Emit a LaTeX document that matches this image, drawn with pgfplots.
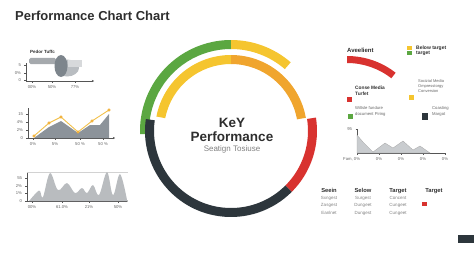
\documentclass[border=0pt]{standalone}
\usepackage{fontspec}
\setmainfont{Liberation Sans}
\usepackage{pgfplots}
\pgfplotsset{compat=1.18}
\usetikzlibrary{arrows.meta}
\definecolor{titlegray}{HTML}{2E2E2E}
\definecolor{rgreen}{HTML}{5BA741}
\definecolor{ryellow}{HTML}{F5C52F}
\definecolor{rorange}{HTML}{F0A52E}
\definecolor{rred}{HTML}{D8322F}
\definecolor{rdark}{HTML}{2D363C}
\definecolor{areaB}{HTML}{8C939A}
\definecolor{areaC}{HTML}{B9BCBF}
\definecolor{areaD}{HTML}{C9CCCF}
\definecolor{lineyellow}{HTML}{F2C04A}
\definecolor{axisgray}{HTML}{555555}
\definecolor{labelgray}{HTML}{666666}
\definecolor{pielabel}{HTML}{A5A9AD}
\definecolor{pielight}{HTML}{B9BDC1}
\definecolor{piepale}{HTML}{D7D9DB}
\definecolor{piedark}{HTML}{7D858C}
\pgfplotsset{mini/.style={scale only axis, axis lines=left,
  axis line style={draw=axisgray, line width=0.5pt, -},
  x axis line style={-{Stealth[length=2.2pt,width=2.2pt]}},
  tick align=outside, major tick length=1.5pt,
  tick style={draw=axisgray, line width=0.4pt},
  tick label style={font=\fontsize{4.2}{4.2}\selectfont, text=labelgray},
  /pgf/number format/assume math mode=true, clip=false}}
\newcommand{\seg}[5]{\fill[#1] ([shift={(#2:#5pt)}]O) arc[start angle=#2, end angle=#3, radius=#5pt] -- ([shift={(#3:#4pt)}]O) arc[start angle=#3, end angle=#2, radius=#4pt] -- cycle;}
\begin{document}
\begin{tikzpicture}[x=1pt,y=1pt]
\path[use as bounding box] (0,0) rectangle (474,258);
\node[anchor=base west, inner sep=0, font=\bfseries\fontsize{13}{13}\selectfont, text=titlegray] at (15,238) {Performance Chart Chart};

% ---- Chart A (top left)
\node[anchor=base west, inner sep=0, font=\bfseries\fontsize{4.5}{4.5}\selectfont, text=titlegray] at (30,205) {Pedor Tuffc};
\begin{axis}[mini, at={(26pt,177pt)}, anchor=south west, width=68pt, height=18pt,
  xmin=0, xmax=68, ymin=0, ymax=18,
  xtick={6,26,49}, xticklabels={00\%,50\%,77\%},
  ytick={1,8,16}, yticklabels={0,0\%,5}]
  \fill[pielabel, rounded corners=1.5pt] (axis cs:3,17) rectangle (axis cs:30,23);
  \fill[pielight] (axis cs:41,13) ellipse [x radius=12pt, y radius=8.5pt];
  \fill[piepale] (axis cs:42,14) rectangle (axis cs:56,21);
  \fill[piedark] (axis cs:35,15) ellipse [x radius=6.5pt, y radius=11pt];
\end{axis}

% ---- Chart B (area + line)
\begin{axis}[mini, at={(28pt,120pt)}, anchor=south west, width=87pt, height=30pt,
  xmin=0, xmax=87, ymin=0, ymax=3.75,
  xtick={5,27,52,75}, xticklabels={0\%,5\%,50 \%,50 \%},
  ytick={0,1,2,3}, yticklabels={0,2\%,4\%,15}]
  \addplot[fill=areaB, draw=none] coordinates {(6,0) (21,1.375) (33,2.125) (50,0.625) (62,1.625) (72,1.625) (81,3.0) (81,0)} \closedcycle;
  \addplot[color=lineyellow, line width=0.9pt, mark=*, mark size=1.3pt, mark options={fill=lineyellow, draw=rorange, line width=0.3pt}] coordinates {(6,0.25) (21,1.875) (33,2.625) (50,0.75) (64,2.125) (81,3.5)};
\end{axis}

% ---- Chart C (peaks)
\begin{axis}[mini, at={(27pt,57pt)}, anchor=south west, width=101pt, height=29pt,
  xmin=0, xmax=101, ymin=0, ymax=3.8,
  xtick={5,35,62,91}, xticklabels={00\%,61.0\%,21\%,50\%},
  ytick={0,1,2,3}, yticklabels={0,1\%,2\%,55}]
  \draw[gray!35, line width=0.4pt] (axis cs:0,3.8) -- (axis cs:101,3.8);
  \addplot[fill=areaC, draw=none, smooth, tension=0.6] coordinates {(2,0) (10,1.17) (13,1.3) (16,0.52) (23,3.65) (31,1.43) (40,2.35) (48,1.04) (55,1.7) (60,1.04) (66,2.09) (72,0.78) (80,3.78) (86,0.78) (93,3.52) (100,0.13)} \closedcycle;
\end{axis}

% ---- Donut
\begin{axis}[hide axis, scale only axis, x=1pt, y=1pt, xmin=-95, xmax=95, ymin=-95, ymax=95, at={(231pt,127pt)}, anchor=center, clip=false]
  \coordinate (O) at (axis cs:0,0);
  \seg{rgreen}{90}{182}{82}{91}
  \seg{ryellow}{49}{90}{82}{91}
  \seg{ryellow}{90}{169}{67}{76}
  \seg{rorange}{10}{90}{67}{76}
  \seg{rred}{-45}{9}{77}{86}
  \seg{rdark}{172}{315}{77}{86}
\end{axis}
\node[anchor=base, inner sep=0, font=\bfseries\fontsize{13.5}{13.5}\selectfont, text=titlegray] at (232,130.3) {KeY};
\node[anchor=base, inner sep=0, font=\bfseries\fontsize{13.5}{13.5}\selectfont, text=titlegray] at (232,117) {Performance};
\node[anchor=base, inner sep=0, font=\fontsize{8}{8}\selectfont, text=gray] at (232,106.5) {Seatign Tosiuse};

% ---- Right top red arc
\begin{axis}[hide axis, scale only axis, x=1pt, y=1pt, xmin=-10, xmax=10, ymin=-10, ymax=10, at={(347pt,123pt)}, anchor=center, clip=false]
  \coordinate (O) at (axis cs:0,0);
  \seg{rred}{52}{90}{72}{79}
\end{axis}
\node[anchor=base west, inner sep=0, font=\bfseries\fontsize{6}{6}\selectfont, text=titlegray] at (347,206) {Aveelient};

% legends
\fill[ryellow] (407,208) rectangle (412,212);
\fill[rgreen] (407,203) rectangle (412,207);
\node[anchor=base west, inner sep=0, font=\bfseries\fontsize{5}{5}\selectfont, text=titlegray] at (416,208.2) {Below target};
\node[anchor=base west, inner sep=0, font=\bfseries\fontsize{5}{5}\selectfont, text=titlegray] at (416,203.2) {target};

\fill[rred] (347,156) rectangle (352,161);
\node[anchor=base west, inner sep=0, font=\bfseries\fontsize{4.8}{6}\selectfont, text=titlegray, align=left] at (355,162.3) {Conse Media\\Turfet};
\fill[ryellow] (409,158) rectangle (414,163);
\node[anchor=base west, inner sep=0, font=\fontsize{4}{5}\selectfont, text=labelgray, align=left] at (418,165.5) {Socizial Media\\Ompresstorgy\\Conversion};

\fill[rgreen] (348,139) rectangle (353,144);
\node[anchor=base west, inner sep=0, font=\fontsize{4.2}{6}\selectfont, text=labelgray, align=left] at (355,142.5) {Wiltsle fundure\\document Piring};
\fill[rdark] (422,138) rectangle (428,145);
\node[anchor=base west, inner sep=0, font=\fontsize{4.2}{6}\selectfont, text=labelgray, align=left] at (432,142.5) {Coasting\\Margot};

% ---- Chart D (right small area)
\begin{axis}[mini, at={(357pt,105pt)}, anchor=south west, width=88pt, height=24pt,
  xmin=0, xmax=88, ymin=0, ymax=24,
  xtick={0,22,44,66,88}, xticklabels={{\llap{Fam,\ }0\%},0\%,0\%,0\%,0\%},
  ytick={24}, yticklabels={95}, x axis line style={-}]
  \addplot[fill=areaD, draw=gray!70, line width=0.3pt] coordinates {(0,18) (6,11) (16,1) (28,10) (36,5) (46,12) (56,3) (63,7) (73,0)} \closedcycle;
\end{axis}

% ---- Table
\foreach \x/\h in {329/Seein, 363/Selow, 398/Target, 434/Target}
  \node[anchor=base, inner sep=0, font=\bfseries\fontsize{5.8}{5.8}\selectfont, text=titlegray] at (\x,66) {\h};
\foreach \x/\a/\b/\c in {329/Sxngest/Zasgest/Eanlnet, 363/Surgest/Dungeet/Dungest, 398/Concent/Cungeet/Cungeet} {
  \node[anchor=base, inner sep=0, font=\fontsize{4.5}{4.5}\selectfont, text=gray] at (\x,58.5) {\a};
  \node[anchor=base, inner sep=0, font=\fontsize{4.5}{4.5}\selectfont, text=gray] at (\x,51.5) {\b};
  \node[anchor=base, inner sep=0, font=\fontsize{4.5}{4.5}\selectfont, text=gray] at (\x,44) {\c};
}
\fill[rred] (422,52) rectangle (426.5,56.5);
\fill[rdark] (458,15) rectangle (474,23);
\end{tikzpicture}
\end{document}
